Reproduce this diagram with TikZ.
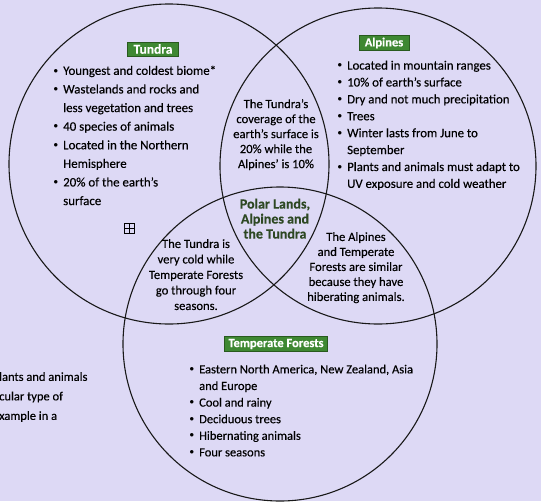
\documentclass[tikz,border=0pt]{standalone}
\usepackage{fontspec}
\setmainfont{Carlito}[FakeBold=0.3]
\definecolor{bg}{RGB}{221,217,245}
\definecolor{lbl}{RGB}{62,136,50}
\definecolor{lbldark}{RGB}{40,90,30}
\definecolor{polar}{RGB}{45,72,35}
\newcommand{\bl}{\makebox[0pt][r]{\raisebox{0.3ex}{\scalebox{0.75}{$\bullet$}}\hspace{5pt}}}
\begin{document}
\begin{tikzpicture}[x=1pt,y=-1pt,
  ring/.style={draw=black!90,line width=1.1pt},
  title/.style={fill=lbl,draw=lbldark,line width=0.6pt,text=white,font=\fontsize{12.5}{14}\selectfont\bfseries,inner xsep=4pt,inner ysep=2.2pt},
  listtext/.style={anchor=north west,align=left,inner sep=0pt},
  midtext/.style={anchor=north,align=center,inner sep=0pt}]
\useasboundingbox (0,0) rectangle (541,501);
\fill[bg] (0,0) rectangle (541,501);
% circles
\draw[ring] (169,164) circle[radius=160];
\draw[ring] (378,166) circle[radius=158];
\draw[ring] (280,344) circle[radius=157];
% titles
\node[title,minimum width=51pt,font=\fontsize{13.5}{15}\selectfont\bfseries] (tundra) at (153,49) {Tundra};
\node[title,minimum width=50pt] (alpines) at (384,43) {Alpines};
\node[title] (temperate) at (276,344) {Temperate Forests};
% lists
\node[listtext,font=\fontsize{12.9}{18.6}\selectfont] (tlist) at (63,65.5) {%
\bl Youngest and coldest biome*\\
\bl Wastelands and rocks and\\
less vegetation and trees\\
\bl 40 species of animals\\
\bl Located in the Northern\\
Hemisphere\\
\bl 20\% of the earth's\\
surface};
\node[listtext,font=\fontsize{12.8}{16.9}\selectfont] (alist) at (347,60.5) {%
\bl Located in mountain ranges\\
\bl 10\% of earth's surface\\
\bl Dry and not much precipitation\\
\bl Trees\\
\bl Winter lasts from June to\\
September\\
\bl Plants and animals must adapt to\\
UV exposure and cold weather};
\node[listtext,font=\fontsize{12.5}{16.6}\selectfont] (flist) at (199,364.5) {%
\bl Eastern North America, New Zealand, Asia\\
and Europe\\
\bl Cool and rainy\\
\bl Deciduous trees\\
\bl Hibernating animals\\
\bl Four seasons};
% intersections
\node[midtext,font=\fontsize{12.6}{15}\selectfont] (ta) at (276,99) {The Tundra's\\coverage of the\\earth's surface is\\20\% while the\\Alpines' is 10\%};
\node[midtext,font=\fontsize{14}{15}\selectfont\bfseries,text=polar] (polar) at (275,198.5) {Polar Lands,\\Alpines and\\the Tundra};
\node[midtext,font=\fontsize{12.6}{15.5}\selectfont] (tf) at (196,239) {The Tundra is\\very cold while\\Temperate Forests\\go through four\\seasons.};
\node[midtext,font=\fontsize{12.6}{15}\selectfont] (af) at (356,232) {The Alpines\\and Temperate\\Forests are similar\\because they have\\hiberating animals.};
% cut-off text at left
\node[listtext,font=\fontsize{12.5}{19.5}\selectfont] (side) at (-1,372) {lants and animals\\cular type of\\xample in a};
% small symbol
\draw[line width=0.6pt] (124,223) rectangle (134,233) (129,223) -- (129,233) (124,228) -- (134,228);
\end{tikzpicture}
\end{document}
